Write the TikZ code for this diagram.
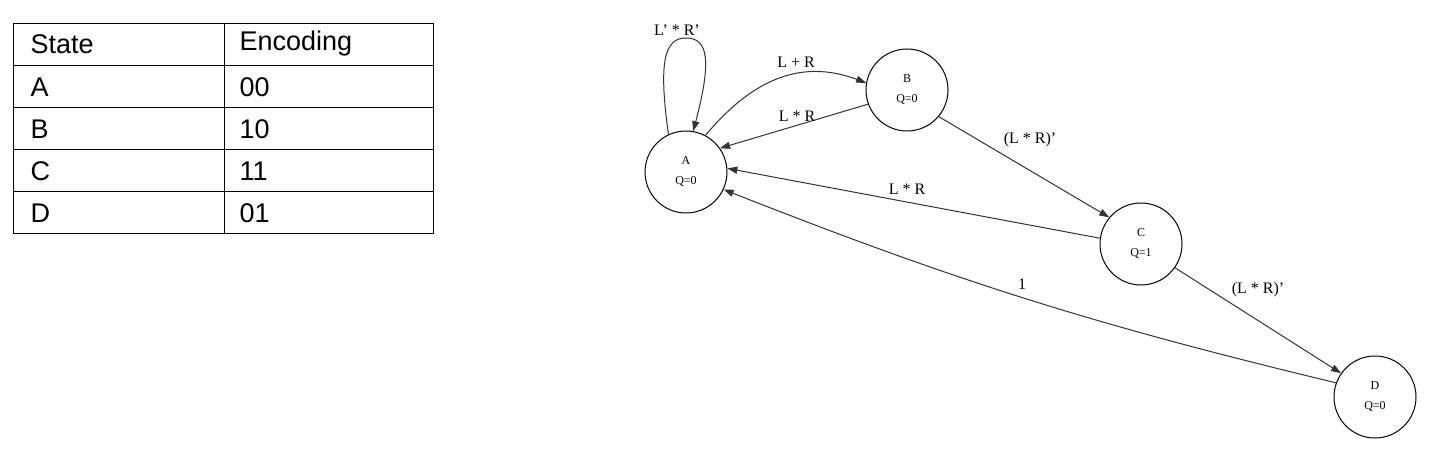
\documentclass[tikz,border=0pt]{standalone}
\usepackage{fontspec}
\setmainfont{Liberation Serif}
\newfontfamily\tsans{Liberation Sans}
\newcommand{\qq}{\char"27\relax}
\usetikzlibrary{arrows.meta}
\begin{document}
\begin{tikzpicture}[x=1pt,y=-1pt,
  st/.style={circle,draw,line width=1pt,minimum size=82pt,inner sep=0pt,font=\fontsize{12}{20}\selectfont,align=center},
  tr/.style={draw,line width=1pt,-{Triangle[length=10pt,width=7pt]},color=black!80},
  lb/.style={font=\fontsize{16}{16}\selectfont},
  cell/.style={anchor=west,font=\tsans\fontsize{27}{27}\selectfont}]
\useasboundingbox (0,0) rectangle (1432,462);
% table
\draw[line width=0.8pt] (13,23) rectangle (433,233);
\draw[line width=0.8pt] (224,23) -- (224,233);
\foreach \y in {65,107,149,191} \draw[line width=0.8pt] (13,\y) -- (433,\y);
\node[cell] (h1) at (27,44) {State};
\node[cell] (h2) at (236,44) {Encoding};
\node[cell] (ra) at (27,87) {A};  \node[cell] (ea) at (236,87) {00};
\node[cell] (rb) at (27,129) {B}; \node[cell] (eb) at (236,129) {10};
\node[cell] (rc) at (27,171) {C}; \node[cell] (ec) at (236,171) {11};
\node[cell] (rd) at (27,213) {D}; \node[cell] (ed) at (236,213) {01};
% states
\node[st] (A) at (686,172) {A\\Q=0};
\node[st] (B) at (907,90) {B\\Q=0};
\node[st] (C) at (1141,244) {C\\Q=1};
\node[st] (D) at (1375,397) {D\\Q=0};
% transitions
\draw[tr] (A.115) .. controls (658,60) and (665,38) .. (686,38) .. controls (708,38) and (712,60) .. (A.80);
\node[lb] (l0) at (677,30) {L\qq{} * R\qq};
\draw[tr] (A.62) .. controls (760,70) and (810,62) .. (B.170);
\node[lb] (l1) at (796,62) {L + R};
\draw[tr] (B.200) -- (A.35);
\node[lb] (l2) at (797,116) {L * R};
\draw[tr] (B.-40) -- (C.140);
\node[lb] (l3) at (1030,140) {(L * R)\qq};
\draw[tr] (C.172) -- (A.5);
\node[lb] (l4) at (907,189) {L * R};
\draw[tr] (D.160) to[bend left=4] (A.-25);
\node[lb] (l5) at (1022,284) {1};
\draw[tr] (C.-35) -- (D.145);
\node[lb] (l6) at (1258,290) {(L * R)\qq};
\end{tikzpicture}
\end{document}
